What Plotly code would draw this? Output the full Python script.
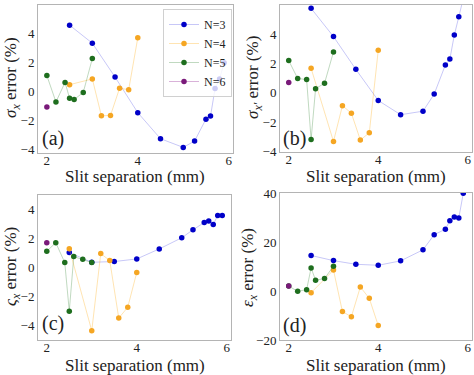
import plotly.graph_objects as go

W, H = 474, 375

# ---------------- data ----------------
x_n3 = [2.5, 3.0, 3.5, 4.0, 4.5, 5.0, 5.25, 5.5, 5.6, 5.7, 5.8, 5.9]
x_n4 = [2.5, 3.0, 3.2, 3.4, 3.6, 3.8, 4.0]
x_n5 = [2.0, 2.2, 2.4, 2.5, 2.6, 2.8, 3.0]
x_n6 = [2.0]

# (a) sigma_x error
a_n3 = [4.6, 3.35, 1.0, -1.47, -3.28, -3.88, -3.44, -1.92, -1.71, 0.2, 0.87, 2.0]
a_n4 = [0.47, 0.87, -1.69, -1.66, 0.23, 0.12, 3.72]
a_n5 = [1.1, -0.73, 0.63, -0.47, -0.56, -0.07, 2.28]
a_n6 = [-1.08]

# (b) sigma_x' error
b_n3 = [5.77, 3.84, 1.6, -0.53, -1.5, -1.26, -0.09, 1.9, 2.3, 3.95, 5.19, 6.45]
b_n4 = [1.67, -3.33, -0.88, -1.4, -3.23, -2.74, 2.9]
b_n5 = [2.2, 0.98, 0.9, -3.2, 0.28, 0.65, 2.79]
b_n6 = [0.7]

# (c) varsigma_x error
c_n3 = [1.03, 0.36, 0.41, 0.59, 1.28, 2.05, 2.6, 3.1, 3.2, 2.97, 3.58, 3.58]
c_n4 = [1.3, -4.36, 0.96, 0.48, -3.49, -2.74, -0.34]
c_n5 = [1.12, 1.71, 0.34, -3.01, 0.75, 0.57, 0.34]
c_n6 = [1.71]

# (d) epsilon_x error
d_n3 = [14.5, 12.4, 10.9, 10.5, 12.3, 16.8, 23.0, 25.2, 28.7, 30.2, 29.8, 39.9]
d_n4 = [-0.7, 8.55, -8.4, -10.5, 1.65, -3.0, -14.1]
d_n5 = [2.0, -0.14, 0.55, 9.4, 4.4, 5.1, 10.1]
d_n6 = [2.07]

names = ["N=3", "N=4", "N=5", "N=6"]
mcol = ["#0000c8", "#f5a623", "#1e6e1e", "#7a1a7a"]
lcol = ["rgba(0,0,220,0.22)", "rgba(255,165,0,0.30)", "rgba(30,120,30,0.28)", "rgba(128,0,128,0.3)"]

xt = [2, 4, 6]
yt_ab = [-4, -2, 0, 2, 4, 6]
yt_c = [-4, -2, 0, 2, 4]
yt_d = [-20, 0, 20, 40]

FONT = "Liberation Serif, Times New Roman, serif"

fig = go.Figure()

panels = [
    ("x", "y", [a_n3, a_n4, a_n5, a_n6], True),
    ("x2", "y2", [b_n3, b_n4, b_n5, b_n6], False),
    ("x3", "y3", [c_n3, c_n4, c_n5, c_n6], False),
    ("x4", "y4", [d_n3, d_n4, d_n5, d_n6], False),
]
xs = [x_n3, x_n4, x_n5, x_n6]

for xa, ya, ser, show in panels:
    for i in range(4):
        fig.add_trace(go.Scatter(
            x=xs[i], y=ser[i], xaxis=xa, yaxis=ya, mode="lines+markers",
            name=names[i], showlegend=show,
            line=dict(color=lcol[i], width=1),
            marker=dict(color=mcol[i], size=5.5, symbol="circle", line=dict(width=0)),
            cliponaxis=True,
        ))

def px(v):
    return v / W

def py(v):
    return 1 - v / H

axis_common = dict(showgrid=False, zeroline=False, showline=True, linecolor="#b4b4b4",
                   linewidth=1, mirror=True, ticks="", automargin=False,
                   tickfont=dict(family=FONT, size=13, color="#222"))
xaxis_extra = dict(ticklabelstandoff=-5)

xr = [1.805, 6.095]
fig.update_layout(
    width=W, height=H, margin=dict(l=0, r=0, t=0, b=0, pad=0),
    paper_bgcolor="white", plot_bgcolor="white",
    font=dict(family=FONT, color="#222"),
    xaxis=dict(domain=[px(38), px(233)], range=xr, tickvals=xt, anchor="y", **axis_common, **xaxis_extra),
    yaxis=dict(domain=[py(153), py(5)], range=[-4.27, 6], tickvals=yt_ab, anchor="x", **axis_common),
    xaxis2=dict(domain=[px(280), px(472)], range=xr, tickvals=xt, anchor="y2", **axis_common, **xaxis_extra),
    yaxis2=dict(domain=[py(152), py(5)], range=[-4.05, 6], tickvals=yt_ab, anchor="x2", **axis_common),
    xaxis3=dict(domain=[px(38), px(231)], range=xr, tickvals=xt, anchor="y3", **axis_common, **xaxis_extra),
    yaxis3=dict(domain=[py(340), py(195)], range=[-5, 5], tickvals=yt_c, anchor="x3", **axis_common),
    xaxis4=dict(domain=[px(280), px(472)], range=xr, tickvals=xt, anchor="y4", **axis_common, **xaxis_extra),
    yaxis4=dict(domain=[py(340), py(193)], range=[-20, 40], tickvals=yt_d, anchor="x4", **axis_common),
    legend=dict(x=px(163), y=py(9), xanchor="left", yanchor="top",
                bgcolor="rgba(255,255,255,0.8)", bordercolor="#d0d0d0", borderwidth=1,
                font=dict(family=FONT, size=12, color="#222"), tracegroupgap=0,
                itemwidth=30),
)

anns = []
def txt(x, y, s, size, angle=0, xa="center", ya="middle"):
    anns.append(dict(x=px(x), y=py(y), xref="paper", yref="paper", text=s, showarrow=False,
                     textangle=angle, xanchor=xa, yanchor=ya, borderpad=0,
                     font=dict(family=FONT, size=size, color="#222")))

# x axis titles
txt(135, 176, "Slit separation (mm)", 17)
txt(376, 176, "Slit separation (mm)", 17)
txt(135, 365, "Slit separation (mm)", 17)
txt(376, 365, "Slit separation (mm)", 17)
# y axis titles
txt(12, 78, "<i>σ<sub>x</sub></i> error (%)", 17, angle=-90)
txt(254, 78, "<i>σ<sub>x′</sub></i> error (%)", 17, angle=-90)
txt(12, 267, "<i>ς<sub>x</sub></i> error (%)", 17, angle=-90)
txt(249, 268, "<i>ε<sub>x</sub></i> error (%)", 17, angle=-90)
# panel labels
txt(41, 151, "(a)", 20, xa="left", ya="bottom")
txt(282, 151, "(b)", 20, xa="left", ya="bottom")
txt(41, 336, "(c)", 20, xa="left", ya="bottom")
txt(282, 338, "(d)", 20, xa="left", ya="bottom")

fig.update_layout(annotations=anns)

fig.write_html("out.html", config={"displayModeBar": False},
               post_script="document.body.style.margin='0';document.body.style.padding='0';")
